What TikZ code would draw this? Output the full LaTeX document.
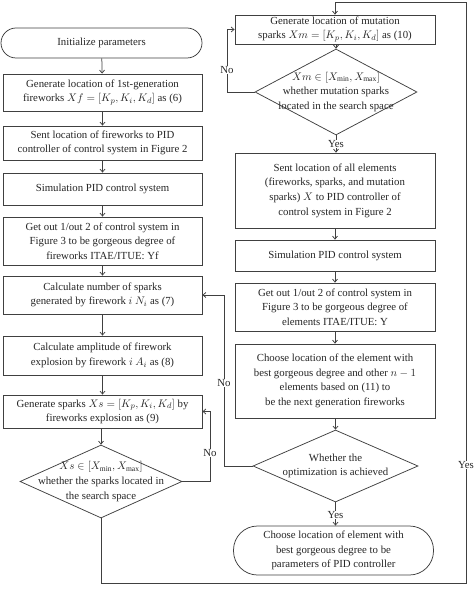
\documentclass[tikz,border=0pt]{standalone}
\usepackage{fontspec}
\setmainfont{Liberation Serif}
\usetikzlibrary{shapes.geometric,arrows.meta}
\begin{document}
\begin{tikzpicture}[x=1pt,y=-1pt,
  every node/.style={font=\fontsize{10.8}{14.6}\selectfont, text=black!85},
  line/.style={draw=black!75, line width=0.75pt},
  arr/.style={line, -{Straight Barb[length=3pt,width=5pt]}},
  proc/.style={line, fill=white, rectangle, align=center, inner sep=1pt, minimum width=#1},
  proc/.default=199pt,
  term/.style={line, fill=white, rectangle, rounded corners=#1, align=center, inner sep=1pt, minimum width=200pt},
  dec/.style={line, fill=white, diamond, inner sep=0pt},
  lab/.style={fill=white, inner sep=0.5pt}]
\useasboundingbox (0,0) rectangle (474,601);

% left column
\node[term=15pt, minimum width=201pt, minimum height=30pt] (init) at (101.5,43) {Initialize parameters};
\node[proc, minimum height=37pt] (b2) at (102.5,92.5) {Generate location of 1st-generation\\fireworks $Xf = [K_p, K_i, K_d]$ as (6)};
\node[proc, minimum height=34pt] (b3) at (102.5,143) {Sent location of fireworks to PID\\controller of control system in Figure 2};
\node[proc, minimum height=32pt] (b4) at (102.5,189) {Simulation PID control system};
\node[proc, minimum height=48pt] (b5) at (102.5,241) {Get out 1/out 2 of control system in\\Figure 3 to be gorgeous degree of\\fireworks ITAE/ITUE: Yf};
\node[proc, minimum height=38pt] (b6) at (102.5,295) {Calculate number of sparks\\generated by firework $i$ $N_i$ as (7)};
\node[proc, minimum height=39pt] (b7) at (102.5,355.5) {Calculate amplitude of firework\\explosion by firework $i$ $A_i$ as (8)};
\node[proc, minimum height=33pt] (b8) at (102.5,411.5) {Generate sparks $Xs = [K_p, K_i, K_d]$ by\\fireworks explosion as (9)};
\node[dec, minimum width=162pt, minimum height=73pt,
  label={[align=center]center:$Xs \in [X_{\min}, X_{\max}]$\\whether the sparks located in\\the search space}] (d1) at (101,481.5) {};

% right column
\node[proc=200pt, minimum height=29pt] (m1) at (335,29.5) {Generate location of mutation\\sparks $Xm = [K_p, K_i, K_d]$ as (10)};
\node[dec, minimum width=162pt, minimum height=86pt,
  label={[align=center]center:$Xm \in [X_{\min}, X_{\max}]$\\whether mutation sparks\\located in the search space}] (d2) at (336,92) {};
\node[proc=200pt, minimum height=75pt] (r1) at (335,190.5) {Sent location of all elements\\(fireworks, sparks, and mutation\\sparks) $X$ to PID controller of\\control system in Figure 2};
\node[proc=200pt, minimum height=31pt] (r2) at (335,255.5) {Simulation PID control system};
\node[proc=200pt, minimum height=48pt] (r3) at (335,307) {Get out 1/out 2 of control system in\\Figure 3 to be gorgeous degree of\\elements ITAE/ITUE: Y};
\node[proc=200pt, minimum height=74pt] (r4) at (335,381) {Choose location of the element with\\best gorgeous degree and other $n-1$\\elements based on (11) to\\be the next generation fireworks};
\node[dec, minimum width=165pt, minimum height=72pt,
  label={[align=center]center:Whether the\\optimization is achieved}] (d3) at (335.5,466) {};
\node[term=24pt, minimum height=49pt] (t2) at (333.5,550.5) {Choose location of element with\\best gorgeous degree to be\\parameters of PID controller};

% connectors, left column
\draw[arr] (init) -- (b2);
\draw[arr] (b2) -- (b3);
\draw[arr] (b3) -- (b4);
\draw[arr] (b4) -- (b5);
\draw[arr] (b5) -- (b6);
\draw[arr] (b6) -- (b7);
\draw[arr] (b7) -- (b8);
\draw[arr] (b8.south -| d1.north) -- (d1.north);
\draw[arr] (d1.east) -- (210,481.5) -- (210,411.5) -- (b8.east);
\node[lab] (no1) at (210,453) {No};

% Yes loop to mutation
\coordinate (c1) at (101,583);
\coordinate (c2) at (466,583);
\coordinate (c3) at (466,2);
\coordinate (c4) at (335,2);
\draw[arr] (d1.south) -- (c1) -- (c2) -- (c3) -- (c4) -- (m1.north);
\node[lab] (yes0) at (466,465) {Yes};

% right column
\draw[arr] (d2.west) -- (227,92) -- (227,29.5) -- (m1.west);
\node[lab] (no2) at (227,70) {No};
\draw[arr] (m1.south -| d2.north) -- (d2.north);
\draw[arr] (d2.south) -- (d2.south |- r1.north);
\node[lab] (yes1) at (336,144) {Yes};
\draw[arr] (r1) -- (r2);
\draw[arr] (r2) -- (r3);
\draw[arr] (r3) -- (r4);
\draw[arr] (r4.south -| d3.north) -- (d3.north);
\draw[arr] (d3.west) -- (224,466) -- (224,295) -- (b6.east);
\node[lab] (no3) at (224,383) {No};
\draw[arr] (d3.south) -- (d3.south |- t2.north);
\node[lab] (yes2) at (335.5,515) {Yes};
\end{tikzpicture}
\end{document}
